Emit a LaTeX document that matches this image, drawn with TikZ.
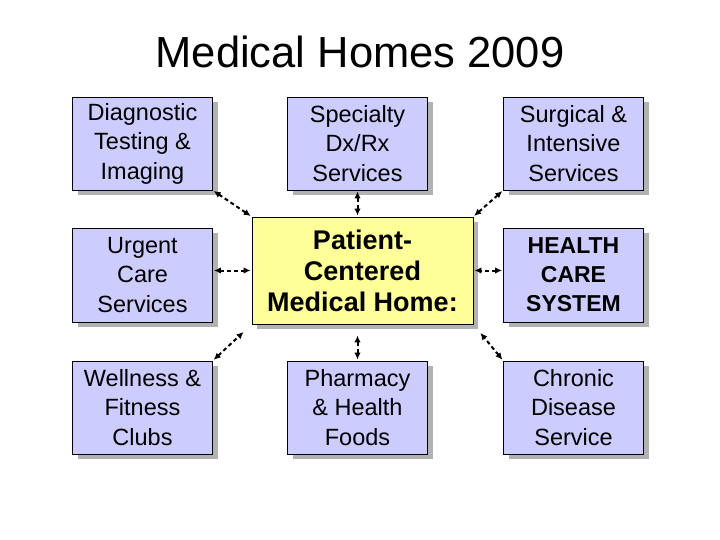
\documentclass[tikz,border=0pt]{standalone}
\usepackage{fontspec}
\setmainfont{Liberation Sans}
\usetikzlibrary{shadows,arrows.meta}
\definecolor{svcblue}{RGB}{204,204,255}
\definecolor{pcmhyellow}{RGB}{255,255,153}

\begin{document}
\begin{tikzpicture}[x=1pt,y=-1pt,
    svcbox/.style={draw=black,line width=0.8pt,fill=svcblue,minimum width=140pt,minimum height=93pt,
      inner sep=0pt,align=center,font=\fontsize{23.5}{29.5}\selectfont,
      drop shadow={opacity=1,fill=black!30,shadow xshift=5pt,shadow yshift=-5pt}},
    homebox/.style={svcbox,fill=pcmhyellow,minimum width=221pt,minimum height=107pt,
      font=\fontsize{27}{31}\selectfont\bfseries},
    link/.style={line width=2pt,dash pattern=on 4pt off 3pt,
      {Latex[length=7pt,width=6.5pt]}-{Latex[length=7pt,width=6.5pt]},shorten >=1pt,shorten <=1pt}]
	\useasboundingbox (0,0) rectangle (720,540);
	
	\node[anchor=base,font=\fontsize{43.5}{50}\selectfont] (title) at (360,68) {Medical Homes 2009};
	
	\node[homebox] (pcmh) at (362.5,270.5) {Patient-\\Centered\\Medical Home:};
	
	% top row
	\node[svcbox] (diag) at (142.5,143.5) {Diagnostic\\Testing \&\\Imaging};
	\node[svcbox] (spec) at (357.5,143.5) {Specialty\\Dx/Rx\\Services};
	\node[svcbox] (surg) at (573.5,143.5) {Surgical \&\\Intensive\\Services};
	
	% middle row
	\node[svcbox,minimum height=94pt] (urg) at (142.5,275) {Urgent\\Care\\Services};
	\node[svcbox,minimum height=94pt,font=\fontsize{23}{29}\selectfont\bfseries] (hcs) at (573.5,275) {HEALTH\\CARE\\SYSTEM};
	
	% bottom row
	\node[svcbox] (well) at (142.5,407.5) {Wellness \&\\Fitness\\Clubs};
	\node[svcbox] (pharm) at (357.5,407.5) {Pharmacy\\\& Health\\Foods};
	\node[svcbox] (chron) at (573.5,407.5) {Chronic\\Disease\\Service};
	
	\draw[link] (diag.south east) -- (pcmh.north west);
	\draw[link] (spec.south) -- (spec.south |- pcmh.north);
	\draw[link] (surg.south west) -- (pcmh.north east);
	\draw[link] (urg.east |- pcmh.west) -- (pcmh.west);
	\draw[link] (hcs.west |- pcmh.east) -- (pcmh.east);
	\draw[link,shorten >=11pt] (well.north east) -- (pcmh.south west);
	\draw[link,shorten >=11pt] (pharm.north) -- (pharm.north |- pcmh.south);
	\draw[link,shorten >=11pt] (chron.north west) -- (pcmh.south east);
\end{tikzpicture}
\end{document}
